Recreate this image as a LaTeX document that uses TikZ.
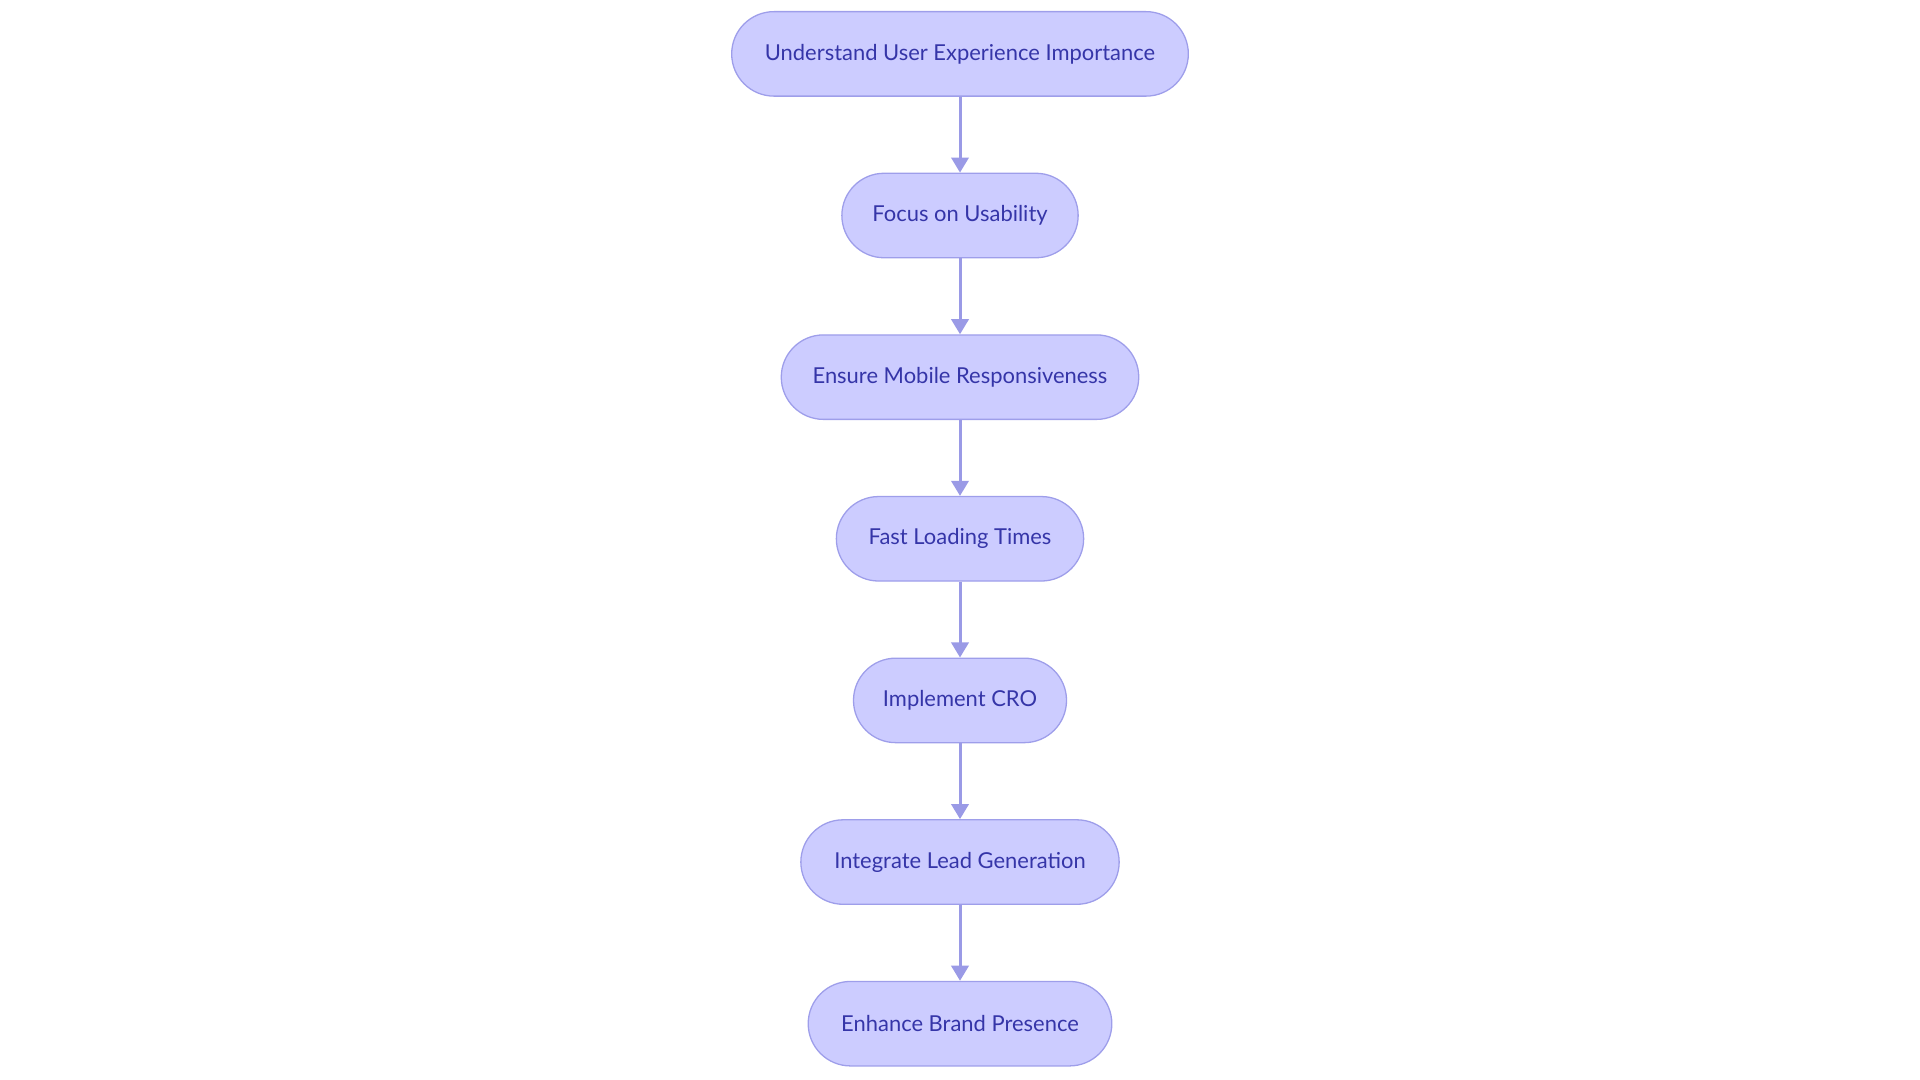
\documentclass[tikz,border=0pt]{standalone}
\usepackage{fontspec}
\setmainfont{Lato}
\usetikzlibrary{arrows.meta}
\definecolor{nfill}{HTML}{CCCCFF}
\definecolor{nborder}{HTML}{9E9EEA}
\definecolor{ntext}{HTML}{3535A8}
\definecolor{arr}{HTML}{9A9AE6}
\begin{document}
\begin{tikzpicture}[x=0.02cm,y=-0.02cm,
  box/.style={draw=nborder,fill=nfill,text=ntext,rounded rectangle,line width=0.6pt,
    minimum height=1.38cm,inner sep=0pt,font=\fontsize{10.2}{12}\selectfont},
  conn/.style={draw=arr,line width=1.4pt,-{Triangle[length=7pt,width=8pt]}}]
\useasboundingbox (0,0) rectangle (1568,882);
\tikzset{rounded rectangle/.style={rectangle,rounded corners=0.69cm}}
\node[box,minimum width=7.46cm] (n1) at (784,44) {Understand User Experience Importance};
\node[box,minimum width=3.86cm] (n2) at (784,176) {Focus on Usability};
\node[box,minimum width=5.84cm] (n3) at (784,308) {Ensure Mobile Responsiveness};
\node[box,minimum width=4.04cm] (n4) at (784,440) {Fast Loading Times};
\node[box,minimum width=3.48cm] (n5) at (784,572) {Implement CRO};
\node[box,minimum width=5.2cm] (n6) at (784,704) {Integrate Lead Generation};
\node[box,minimum width=4.96cm] (n7) at (784,836) {Enhance Brand Presence};
\foreach \a/\b in {n1/n2,n2/n3,n3/n4,n4/n5,n5/n6,n6/n7}
  \draw[conn] (\a) -- (\b);
\end{tikzpicture}
\end{document}
